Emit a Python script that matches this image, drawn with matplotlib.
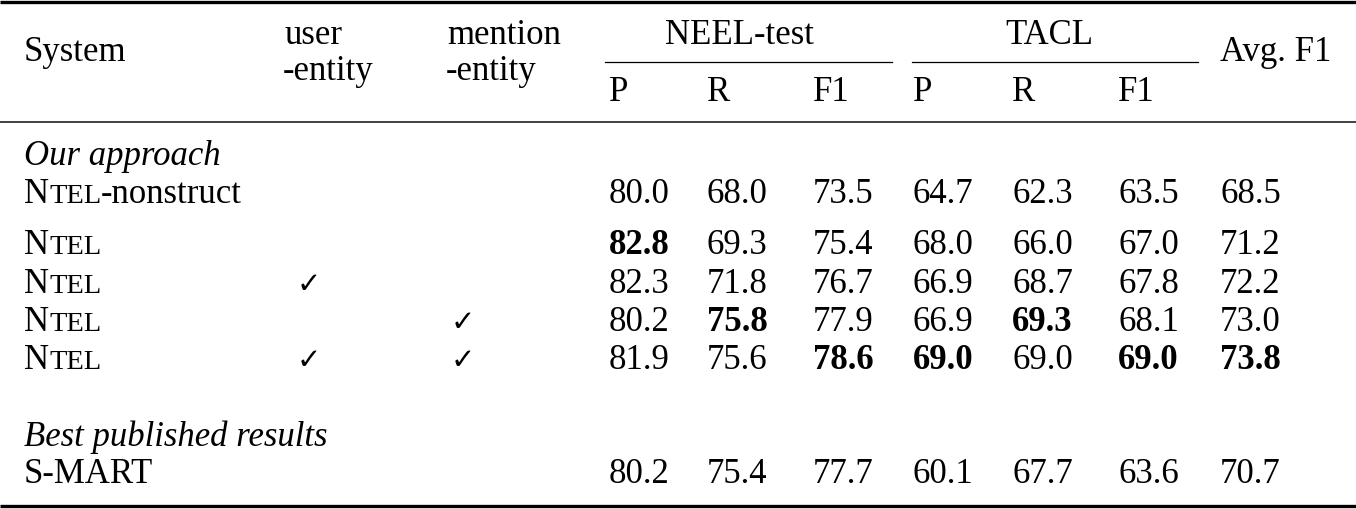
import matplotlib
matplotlib.use('Agg')
import matplotlib.pyplot as plt

# table content
systems = ['NTEL-nonstruct', 'NTEL', 'NTEL', 'NTEL', 'NTEL']
user_entity = [False, False, True, False, True]
mention_entity = [False, False, False, True, True]
our_values = [
    [80.0, 68.0, 73.5, 64.7, 62.3, 63.5, 68.5],
    [82.8, 69.3, 75.4, 68.0, 66.0, 67.0, 71.2],
    [82.3, 71.8, 76.7, 66.9, 68.7, 67.8, 72.2],
    [80.2, 75.8, 77.9, 66.9, 69.3, 68.1, 73.0],
    [81.9, 75.6, 78.6, 69.0, 69.0, 69.0, 73.8],
]
# bold cells (row, col)
bold_cells = {(1, 0), (3, 1), (4, 2), (4, 3), (3, 4), (4, 5), (4, 6)}
published_name = 'S-MART'
published_values = [80.2, 75.4, 77.7, 60.1, 67.7, 63.6, 70.7]
sub_headers = ['P', 'R', 'F1', 'P', 'R', 'F1']

W, H = 1356, 509
FONT = ['Liberation Serif', 'DejaVu Serif']
FS = 25

fig = plt.figure(figsize=(W / 100, H / 100), dpi=100)
ax = fig.add_axes([0, 0, 1, 1])
ax.set_xlim(0, W)
ax.set_ylim(H, 0)
ax.axis('off')
renderer = fig.canvas.get_renderer()


def txt(x, y, s, **kw):
    kw.setdefault('fontsize', FS)
    kw.setdefault('family', FONT)
    kw.setdefault('va', 'baseline')
    kw.setdefault('ha', 'left')
    return ax.text(x, y, s, **kw)


def ntel(x, y, suffix=''):
    # N + small caps TEL, then the rest in normal size
    t = txt(x, y, 'N')
    x += t.get_window_extent(renderer).width
    t = txt(x, y, 'TEL', fontsize=FS * 0.82)
    x += t.get_window_extent(renderer).width
    if suffix:
        txt(x, y, suffix)


# rules
ax.plot([0, W], [1.5, 1.5], color='black', lw=2.4, solid_capstyle='butt')
ax.plot([0, W], [122, 122], color='#333333', lw=1.3, solid_capstyle='butt')
ax.plot([0, W], [505.5, 505.5], color='black', lw=2.4, solid_capstyle='butt')
ax.plot([605, 892], [62, 62], color='black', lw=0.9)
ax.plot([912, 1198], [62, 62], color='black', lw=0.9)

# header
txt(24, 61, 'System')
txt(285, 44, 'user')
txt(283, 80, '-entity')
txt(447, 44, 'mention')
txt(446, 80, '-entity')
txt(740, 44, 'NEEL-test', ha='center')
txt(1049, 44, 'TACL', ha='center')
txt(1220, 61, 'Avg. F1')

col_x = [609, 707, 813, 913, 1012, 1118, 1220]
for x, s in zip(col_x, sub_headers):
    txt(x, 101, s)

# our approach
txt(24, 165, 'Our approach', style='italic')
row_y = [203, 254, 293, 331, 369]
for i, (name, ue, me, vals) in enumerate(zip(systems, user_entity, mention_entity, our_values)):
    y = row_y[i]
    if name.startswith('NTEL'):
        ntel(24, y, name[4:])
    else:
        txt(24, y, name)
    if ue:
        txt(297, y, '\u2713', family=['DejaVu Sans'], fontsize=21)
    if me:
        txt(451, y, '\u2713', family=['DejaVu Sans'], fontsize=21)
    for j, v in enumerate(vals):
        w = 'bold' if (i, j) in bold_cells else 'normal'
        txt(col_x[j], y, f'{v:.1f}', fontweight=w)

# best published
txt(24, 446, 'Best published results', style='italic')
txt(24, 483, published_name)
for j, v in enumerate(published_values):
    txt(col_x[j], 483, f'{v:.1f}')

fig.savefig('out.png', dpi=100)
